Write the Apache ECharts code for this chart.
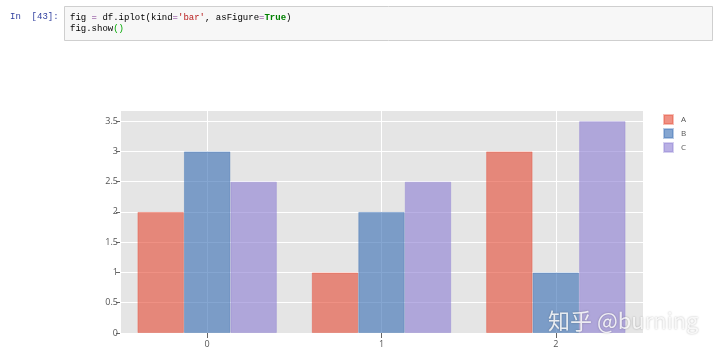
<!DOCTYPE html>
<html>
<head>
<meta charset="utf-8">
<script src="https://cdn.jsdelivr.net/npm/echarts@6/dist/echarts.min.js"></script>
<style>
html,body{margin:0;padding:0;background:#fff;}
#c{width:720px;height:359px;}
</style>
</head>
<body>
<div id="c"></div>
<script>
var categories = ['0', '1', '2'];
var seriesNames = ['A', 'B', 'C'];
var valuesA = [2, 1, 3];
var valuesB = [3, 2, 1];
var valuesC = [2.5, 2.5, 3.5];
var yTicks = [0, 0.5, 1, 1.5, 2, 2.5, 3, 3.5];

var baseColors = [[228, 72, 50], [52, 107, 179], [138, 124, 210]];
function rgba(c, a) { return 'rgba(' + c[0] + ',' + c[1] + ',' + c[2] + ',' + a + ')'; }

var chart = echarts.init(document.getElementById('c'), null, {renderer: 'canvas'});
var allValues = [valuesA, valuesB, valuesC];
var series = seriesNames.map(function (n, i) {
  return {
    name: n,
    type: 'bar',
    xAxisIndex: 0,
    data: allValues[i],
    barGap: '0%',
    barCategoryGap: '20%',
    z: 3,
    itemStyle: {color: rgba(baseColors[i], 0.6), borderColor: rgba(baseColors[i], 0.35), borderWidth: 1},
    emphasis: {disabled: true}
  };
});

var mono = '"Liberation Mono", "DejaVu Sans Mono", monospace';
var option = {
  animation: false,
  textStyle: {fontFamily: '"Open Sans", sans-serif'},
  grid: {left: 120, top: 110, width: 523, height: 223, show: true, backgroundColor: '#E5E5E5', borderWidth: 0, containLabel: false},
  legend: {
    orient: 'vertical', left: 663, top: 114, padding: 0, itemWidth: 9, itemHeight: 9, itemGap: 3,
    icon: 'rect',
    textStyle: {fontSize: 8, color: '#555', padding: [0, 0, 0, 3]},
    data: seriesNames
  },
  xAxis: [{
    type: 'category', data: categories, gridIndex: 0,
    axisLine: {show: false},
    axisTick: {show: true, alignWithLabel: true, length: 5, lineStyle: {color: '#666'}},
    axisLabel: {fontSize: 9, color: '#555', margin: 7},
    splitLine: {show: false}
  }, {
    type: 'value', gridIndex: 0, min: -0.5, max: 2.5, splitNumber: 3, position: 'bottom',
    axisLine: {show: false, onZero: false}, axisTick: {show: false}, axisLabel: {show: false},
    splitLine: {show: true, lineStyle: {color: '#ffffff', width: 1}}
  }],
  yAxis: {
    type: 'value', min: 0, max: 3.684, interval: 0.5,
    axisLine: {show: false, onZero: false},
    axisTick: {show: true, length: 4, lineStyle: {color: '#666'}},
    axisLabel: {fontSize: 9, color: '#555', margin: 2, showMaxLabel: false,
      formatter: function (v) { return yTicks.indexOf(v) >= 0 ? String(v) : ''; }},
    splitLine: {show: true, lineStyle: {color: '#ffffff', width: 1}}
  },
  series: series,
  graphic: [
    {type: 'rect', left: 64, top: 6, shape: {width: 648, height: 34}, style: {fill: '#f7f7f7', stroke: '#cfcfcf', lineWidth: 1}, z: 1},
    {type: 'text', left: 10, top: 12, style: {text: 'In  [43]:', font: '9px ' + mono, fill: '#303F9F'}, z: 2},
    {type: 'text', left: 70, top: 12, style: {
      text: '{n|fig }{o|=}{n| df.iplot(kind}{o|=}{s|\'bar\'}{n|, asFigure}{o|=}{k|True}{n|)}\n{n|fig.show}{g|()}',
      font: '9px ' + mono, lineHeight: 11,
      rich: {
        n: {fill: '#000', font: '9px ' + mono, lineHeight: 11},
        o: {fill: '#7a2a8a', font: '9px ' + mono, lineHeight: 11},
        s: {fill: '#BA2121', font: '9px ' + mono, lineHeight: 11},
        k: {fill: '#008000', font: 'bold 9px ' + mono, lineHeight: 11},
        g: {fill: '#00aa00', font: '9px ' + mono, lineHeight: 11}
      }
    }, z: 2},
    {type: 'text', left: 548, top: 310, style: {
      text: '知乎 @burning', font: '22px "Noto Sans CJK SC", sans-serif',
      fill: 'rgba(255,255,255,0.85)', textShadowColor: 'rgba(0,0,0,0.35)', textShadowBlur: 2
    }, z: 100}
  ]
};
chart.setOption(option);
</script>
</body>
</html>
